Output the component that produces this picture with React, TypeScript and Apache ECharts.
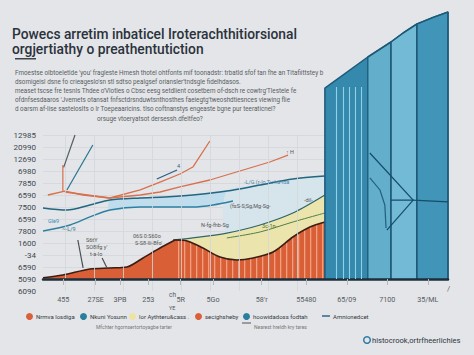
import React, { useEffect, useRef } from 'react';
import * as echarts from 'echarts';

const titleText = 'Powecs arretim inbaticel Iroterachthitiorsional\norgjertiathy o preathentutiction';
const paragraphLines = [
  "Fmoestse oIbtoeletlde 'you' fragleste Hmesh thotel ohtfonts mif toonadstr: trbatld sfof tan fhe an Titafiittstey b",
  "dsomigeisl dsne fo crieageslo'sn stl sdtso pealgsef oriansler'tndsgle fidelhdasos.",
  "measet tscse fre tesnls Thdee o'Vlotles o Cbsc eesg setdlient cosetbem of-dsch re cowtrg'Tlestele fe",
  "ofdnfsesdaaros 'Jvemets otansat fnfsctdrsnduwtsnthosthes faeiegtg'tweoshdtiesnces viewing flie",
  "d oarsm af-lise sasteloslts o lr Toepeaaricins. tlso coftnanstys engeaste bgne pur teeraticnel?",
  "orsuge vtoeryatsot dersessh.dfeltfeo?"
];

// y axis: values -1..12 with nonsense labels
const yLabels = ['6090', '5090', '6590', '-34', '1600', '7800', '6590', '7500', '6590', '7850', '6980', '12690', '20990', '12985'];
// x axis label positions and texts
const xLabelPos = [5, 13, 19, 26, 34, 42, 54, 65, 75, 85, 95];
const xLabels = ['455', '27SE', '3PB', '253', '5R', '5Go', "58'r", '55480', '65/09', '7100', '35/ML'];
const gridX = [5.4, 12.6, 19.8, 26.9, 34.1, 41.2, 48.4, 55.6, 62.7];

// series values
const orangeLeft = [[0, 0.1], [4.9, 0.33], [11.6, 0.83], [16.5, 0.92], [20.7, 1.0], [24.7, 1.75], [28.9, 2.58], [32.6, 3.25]];
const orangeRight = [[32.6, 3.25], [35.6, 3.17], [39.5, 2.58], [43.7, 1.83], [47.9, 1.58], [51.9, 1.75], [56.8, 2.25], [61.7, 3.5], [65.9, 4.33], [69.6, 4.75]];
const greenTop = [[32.1, 3.25], [37.0, 3.42], [45.4, 3.83], [53.6, 4.5], [61.7, 5.5], [69.6, 7.0]];
const greenInner = [[45.4, 3.42], [53.6, 3.92], [61.7, 4.75], [69.6, 5.5]];
const tealUpper = [[0, 5.92], [5.9, 5.75], [11.6, 6.17], [16.5, 6.58], [24.0, 6.75], [30.1, 6.83], [37.0, 7.0], [45.4, 7.33], [53.6, 7.83], [61.7, 8.33], [69.6, 8.58]];
const tealLower = [[0, 4.0], [6.7, 4.5], [11.6, 5.17], [16.5, 5.75], [24.0, 6.0], [30.1, 6.0], [37.0, 6.0], [42.0, 6.17], [46.9, 6.5]];
const orangeLine1 = [[1.2, 7.0], [5.4, 7.33], [9.9, 7.0], [16.5, 6.75], [24.0, 7.42], [28.9, 8.08], [33.8, 8.75], [37.0, 9.33], [41.2, 11.5]];
const orangeLine2 = [[5.4, 7.25], [16.5, 6.75], [24.0, 7.0], [28.9, 7.25], [33.8, 7.67], [41.2, 8.25], [48.6, 9.0], [56.0, 9.75], [60.5, 10.33]];
const blueTop = [[69.6, 0], [69.6, 15.9], [80.2, 18.5], [85.9, 19.75], [88.9, 20.5], [92.3, 21.25], [96.3, 21.8], [100, 22.25], [100, 0]];
const blueBands = [[80.2, 85.9, '#62aecb'], [85.9, 92.3, '#72bad5'], [92.3, 100, '#4195b8']];
const blueStripes = [72.3, 74.1, 75.6, 77.0, 78.5];
const blueStripeTop = 16;
const spikes = [
  { coords: [[4.9, 7.33], [4.9, 9.5]], color: '#d9704a' },
  { coords: [[5.1, 9.3], [7.9, 12]], color: '#555b63' },
  { coords: [[5.9, 7.42], [12.3, 11.17]], color: '#2a7390' },
  { coords: [[28.1, 8.33], [33.1, 9.08]], color: '#2a5f80' },
  { coords: [[8.6, 3.25], [9.9, 0.92]], color: '#4a4f55' },
  { coords: [[14.6, 1.75], [15.8, 0.92]], color: '#4a4f55' },
  { coords: [[80.7, 10.5], [91.4, 6.58], [100, 6.42]], color: '#164d69' },
  { coords: [[85.9, 6.58], [91.4, 6.58], [84.9, 4.08]], color: '#164d69' },
  { coords: [[80.7, 8.42], [83.2, 7.42], [84.4, 6.17], [84.7, 4.25]], color: '#23607d' }
];
const annotations = [
  { x: 86, y: 240, t: 'S6tY', c: '#555' },
  { x: 86, y: 247, t: 'SO8lfg y\u2032', c: '#555' },
  { x: 90, y: 254, t: 't-a-lo', c: '#555' },
  { x: 133, y: 236, t: '06S 0:S60o', c: '#555' },
  { x: 135, y: 243, t: 'S-S8-lli-Bfo\u2032', c: '#555' },
  { x: 48, y: 221, t: 'Gle9', c: '#3a8fb5' },
  { x: 62, y: 229, t: '~-L/9', c: '#3a6f8a' },
  { x: 244, y: 182, t: '-L/G (r-lo Tu ha-ida', c: '#4a88a8' },
  { x: 230, y: 206, t: '(fsS-S;Sg,Mg-Sg-', c: '#555' },
  { x: 201, y: 225, t: 'N-fg-fhb-Sg', c: '#555' },
  { x: 262, y: 226, t: '3c-1n-', c: '#4a6a3a' },
  { x: 304, y: 200, t: '-dil-', c: '#555' },
  { x: 286, y: 152, t: '\u2191 H', c: '#555' },
  { x: 177, y: 166, t: '4', c: '#2a5f80' }
];
const legendItems = [
  { x: 26, name: 'Nrmva losdiga', color: '#d9603a', icon: 'circle' },
  { x: 80, name: 'Nkuni Yosunn', color: '#2a7f9c', icon: 'circle' },
  { x: 129, name: 'lor Aythteru&cass .', color: '#efe3a0', icon: 'circle' },
  { x: 195, name: 'secighsheby', color: '#d9603a', icon: 'circle' },
  { x: 243, name: 'hoowidadoss fodtah', color: '#2a7f9c', icon: 'circle' },
  { x: 322, name: 'Amnionedcet', color: '#5d86a6', icon: 'rect' }
];

const stripeImg =
  'data:image/svg+xml;utf8,' +
  encodeURIComponent(
    "<svg xmlns='http://www.w3.org/2000/svg' width='6' height='8'><rect width='6' height='8' fill='#d95f36'/><rect x='4' width='1.3' height='8' fill='#f0a080'/></svg>"
  );

export default function App() {
  const ref = useRef<HTMLDivElement>(null);
  useEffect(() => {
    if (!ref.current) return;
    const chart = echarts.init(ref.current, null, { renderer: 'svg' });
    const between = (arr: number[][], a: number, b: number) => arr.filter((p) => p[0] >= a && p[0] <= b);
    const wedgeUpper = between(tealUpper, 16.5, 45.4);
    const wedgeLower = between(tealLower, 16.5, 46.9);
    const bandUpper = between(tealUpper, 45.4, 69.6);
    const bandLower = between(greenTop, 45.4, 69.6);

    const graphics: any[] = [
      { type: 'rect', left: 15, top: 58, shape: { width: 21, height: 1.5 }, style: { fill: '#3d434a' } },
      ...paragraphLines.map((t, i) => ({
        type: 'text',
        x: i === 5 ? 97 : 15,
        y: 73 + i * 9.1,
        style: { text: t, fontSize: 6.3, fontFamily: 'Roboto', fill: '#585d63', verticalAlign: 'middle' }
      })),
      ...annotations.map((a) => ({
        type: 'text', x: a.x, y: a.y, z: 50,
        style: { text: a.t, fontSize: 5.5, fontFamily: 'Roboto', fill: a.c, verticalAlign: 'middle' }
      })),
      { type: 'text', x: 169, y: 295, style: { text: 'ch', fontSize: 6.5, fontFamily: 'Roboto', fill: '#555b62', verticalAlign: 'middle' } },
      { type: 'text', x: 169, y: 307.5, style: { text: 'YE', fontSize: 5.5, fontFamily: 'Roboto', fill: '#555', verticalAlign: 'middle' } },
      { type: 'text', x: 447, y: 288, style: { text: '/', fontSize: 8, fontFamily: 'Roboto', fill: '#666', verticalAlign: 'middle' } },
      { type: 'text', x: 96, y: 327, style: { text: 'Mfchter hgornsertortoyagbe tarter', fontSize: 5, fontFamily: 'Roboto', fill: '#777', verticalAlign: 'middle' } },
      { type: 'line', shape: { x1: 242, y1: 323, x2: 251, y2: 323 }, style: { stroke: '#4a5560', lineWidth: 1 } },
      { type: 'text', x: 254, y: 327, style: { text: 'Nearest hreldh kry tares', fontSize: 5, fontFamily: 'Roboto', fill: '#777', verticalAlign: 'middle' } },
      { type: 'circle', shape: { cx: 367, cy: 340, r: 3.3 }, style: { fill: 'none', stroke: '#2f7aa6', lineWidth: 1.5 } },
      { type: 'text', x: 372, y: 340, style: { text: 'histocrook,ortrfheerlichies', fontSize: 7.6, fontFamily: 'Roboto', fill: '#2d3640', verticalAlign: 'middle' } }
    ];

    const lineBase = { type: 'line', symbol: 'none', silent: true, animation: false };

    const option: any = {
      animation: false,
      backgroundColor: '#e3e5e8',
      textStyle: { fontFamily: 'Roboto' },
      title: {
        text: titleText,
        left: 12,
        top: 26,
        padding: 0,
        textStyle: { fontSize: 13.8, fontWeight: 500, color: '#2b323c', lineHeight: 15, fontFamily: 'Roboto' }
      },
      legend: legendItems.map((it) => ({
        left: it.x,
        top: 313,
        padding: 0,
        itemWidth: it.icon === 'rect' ? 8 : 7,
        itemHeight: it.icon === 'rect' ? 2 : 7,
        itemGap: 4,
        selectedMode: false,
        textStyle: { fontSize: 6, color: '#333a42', padding: [0, 0, 0, -2] },
        lineStyle: { width: 0, opacity: 0 },
        data: [{ name: it.name, icon: it.icon, itemStyle: { color: it.color }, lineStyle: { width: 0, opacity: 0 } }]
      })),
      grid: { left: 43, right: 26, top: 135, bottom: 64 },
      xAxis: {
        type: 'value', min: 0, max: 100, z: 5,
        axisLine: { onZero: true, lineStyle: { color: '#1c2f3d', width: 2.5 } },
        axisTick: { show: true, customValues: xLabelPos, length: 6, lineStyle: { color: '#b4b9be' } },
        axisLabel: {
          customValues: xLabelPos, margin: 5, fontSize: 7.2, color: '#555b62',
          formatter: (v: number) => xLabels[xLabelPos.indexOf(Math.round(v))] ?? ''
        },
        splitLine: { show: false }
      },
      yAxis: {
        type: 'value', min: -1, max: 12, interval: 1,
        axisLine: { show: false }, axisTick: { show: false },
        axisLabel: { fontSize: 8, color: '#41474e', margin: 7, formatter: (v: number) => yLabels[Math.round(v) + 1] ?? '' },
        splitLine: { showMinLine: false, lineStyle: { color: '#d3d7db', width: 0.8 } }
      },
      series: [
        {
          ...lineBase, name: 'grid', data: [[0, 0]], lineStyle: { opacity: 0 },
          markLine: {
            silent: true, symbol: 'none', label: { show: false },
            lineStyle: { color: '#d3d7db', width: 0.8, type: 'solid' },
            data: gridX.map((x) => ({ xAxis: x }))
          }
        },
        {
          ...lineBase, name: 'lor Aythteru&cass .', data: greenTop,
          lineStyle: { color: '#2e6868', width: 1.3 }, areaStyle: { color: '#ebe5ad', opacity: 1 }, smooth: 0.3
        },
        {
          type: 'custom', name: 'bands', silent: true, data: [[0, 0]],
          renderItem: (_p: any, api: any) => {
            const poly = (up: number[][], lo: number[][], fill: string) => ({
              type: 'polygon',
              shape: { points: [...up.map((p) => api.coord(p)), ...lo.slice().reverse().map((p) => api.coord(p))], smooth: 0.3 },
              style: { fill }
            });
            return { type: 'group', children: [poly(wedgeUpper, wedgeLower, '#bfdded'), poly(bandUpper, bandLower, '#d6e4ec')] };
          }
        },
        { ...lineBase, name: 'Nkuni Yosunn', data: tealUpper, lineStyle: { color: '#22667f', width: 1.5 }, smooth: 0.3 },
        { ...lineBase, name: 'lower teal', data: tealLower, lineStyle: { color: '#2d80a2', width: 1.4 }, smooth: 0.3 },
        {
          ...lineBase, name: 'Nrmva losdiga', data: orangeLeft, smooth: 0.3,
          lineStyle: { color: '#3d1d15', width: 1.6 }, areaStyle: { color: '#d95f36', opacity: 1 }
        },
        {
          ...lineBase, name: 'orange striped', data: orangeRight, smooth: 0.3,
          lineStyle: { color: '#3d1d15', width: 1.6 },
          areaStyle: { color: { image: stripeImg, repeat: 'repeat', imageWidth: 6, imageHeight: 8 }, opacity: 1 }
        },
        { ...lineBase, name: 'green inner', data: greenInner, lineStyle: { color: '#4f7f47', width: 1 }, smooth: 0.3 },
        { ...lineBase, name: 'secighsheby', data: orangeLine1, lineStyle: { color: '#d8704b', width: 1.3 } },
        { ...lineBase, name: 'Amnionedcet', data: orangeLine2, lineStyle: { color: '#d8704b', width: 1.3 } },
        {
          ...lineBase, name: 'hoowidadoss fodtah', data: blueTop, clip: false,
          lineStyle: { color: '#1e5a78', width: 1.5 }, areaStyle: { color: '#3589ad', opacity: 1 }
        },
        ...blueBands.map((b, i) => ({
          ...lineBase, name: 'blue band ' + i, clip: false,
          data: [[b[0], 0], ...between(blueTop, b[0] as number, b[1] as number).filter((p) => p[1] > 0), [b[1], 0]],
          lineStyle: { color: '#1e5a78', width: 1.3 }, areaStyle: { color: b[2], opacity: 1 }
        })),
        {
          type: 'lines', name: 'stripes', coordinateSystem: 'cartesian2d', silent: true, clip: false, z: 10,
          data: blueStripes.map((x) => ({ coords: [[x, 0], [x, blueStripeTop]] })),
          lineStyle: { color: '#8fd1e7', width: 1.1, opacity: 1 }
        },
        {
          type: 'lines', name: 'strokes', coordinateSystem: 'cartesian2d', polyline: true, silent: true, clip: false, z: 10,
          data: spikes.map((s) => ({ coords: s.coords, lineStyle: { color: s.color, width: 1.2 } })),
          lineStyle: { width: 1.2, opacity: 1 }
        }
      ],
      graphic: graphics
    };
    chart.setOption(option);
    return () => chart.dispose();
  }, []);
  return <div ref={ref} style={{ position: 'absolute', left: 0, top: 0, width: 474, height: 355 }} />;
}
